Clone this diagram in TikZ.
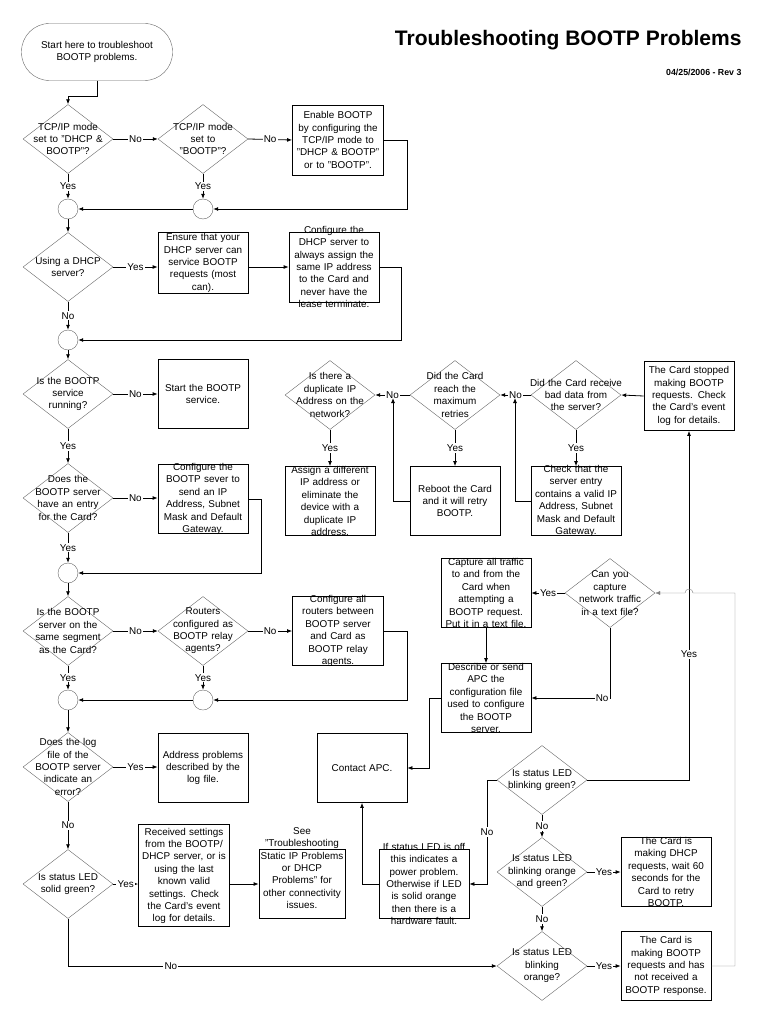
\documentclass[tikz,border=0pt]{standalone}
\usepackage{fontspec}
\setmainfont{Liberation Sans}
\usetikzlibrary{shapes.geometric,arrows.meta}
\begin{document}
\begin{tikzpicture}[x=1pt,y=-1pt,
  every node/.style={font=\fontsize{9.9}{12.4}\selectfont},
  dia/.style={draw=black!60,shape=diamond,minimum width=90,minimum height=69,inner sep=0},
  bx/.style={draw,thick,minimum width=90,minimum height=69,inner sep=0},
  txt/.style={align=center,inner sep=0,text width=110},
  dot/.style={draw=black!60,circle,minimum size=20,inner sep=0},
  ar/.style={-{Latex[length=5pt,width=4pt]},thick},
  lab/.style={fill=white,inner sep=1.2pt}]
\useasboundingbox (0,0) rectangle (768,1024);
\newcommand\dd[3]{\node[dia] (#1) at (#2) {};\node[txt] at (#1) {#3};}
\newcommand\bb[3]{\node[bx] (#1) at (#2) {};\node[txt] at (#1) {#3};}
% title
\node[anchor=east,font=\fontsize{21}{24}\bfseries] (title) at (745,40) {Troubleshooting BOOTP Problems};
\node[anchor=east,font=\fontsize{8.8}{10}\bfseries] (date) at (745,72) {04/25/2006 - Rev 3};
\node[draw=black!60,rounded corners=28,minimum width=151,minimum height=57,align=center] (start) at (97,52) {Start here to troubleshoot\\BOOTP problems.};
% left column
\dd{d1}{68,139}{TCP/IP mode\\set to "DHCP \&\\BOOTP"?}
\dd{d2}{203,139}{TCP/IP mode\\set to\\"BOOTP"?}
\node[bx,minimum width=91,minimum height=70] (enable) at (338,140) {};
\node[txt] at (enable) {Enable BOOTP\\by configuring the\\TCP/IP mode to\\"DHCP \& BOOTP"\\or to "BOOTP".};
\node[dot] (c1) at (68,209) {};
\node[dot] (c2) at (203,209) {};
\dd{d3}{68,267}{Using a DHCP\\server?}
\node[bx,minimum height=61] (ensure) at (203,263) {};
\node[txt] at (ensure) {Ensure that your\\DHCP server can\\service BOOTP\\requests (most\\can).};
\node[bx,minimum height=70] (cfgdhcp) at (334,267) {};
\node[txt] at (cfgdhcp) {Configure the\\DHCP server to\\always assign the\\same IP address\\to the Card and\\never have the\\lease terminate.};
\node[dot] (c3) at (68,340) {};
\dd{d4}{68,394}{Is the BOOTP\\service\\running?}
\bb{startsvc}{203,394}{Start the BOOTP\\service.}
\dd{d5}{68,498}{Does the\\BOOTP server\\have an entry\\for the Card?}
\bb{cfgboot}{203,499}{Configure the\\BOOTP sever to\\send an IP\\Address, Subnet\\Mask and Default\\Gateway.}
\node[dot] (c4) at (68,573) {};
\dd{d6}{68,631}{Is the BOOTP\\server on the\\same segment\\as the Card?}
\dd{d7}{203,631}{Routers\\configured as\\BOOTP relay\\agents?}
\node[bx,minimum width=91,minimum height=69] (routers) at (338,631) {};
\node[txt] at (routers) {Configure all\\routers between\\BOOTP server\\and Card as\\BOOTP relay\\agents.};
\node[dot] (c5) at (68,700) {};
\node[dot] (c6) at (203,700) {};
\dd{d8}{68,767}{Does the log\\file of the\\BOOTP server\\indicate an\\error?}
\bb{addr}{203,768}{Address problems\\described by the\\log file.}
\dd{d9}{68,884}{Is status LED\\solid green?}
\node[bx,minimum width=91,minimum height=102] (recv) at (184,875) {};
\node[txt] at (184,876) {Received settings\\from the BOOTP/\\DHCP server, or is\\using the last\\known valid\\settings. Check\\the Card's event\\log for details.};
\node[bx,minimum width=86,minimum height=69] (see) at (302,884) {};
\node[txt] at (302,868) {See\\"Troubleshooting\\Static IP Problems\\or DHCP\\Problems" for\\other connectivity\\issues.};
% middle/right
\dd{ddup}{330,395}{Is there a\\duplicate IP\\Address on the\\network?}
\dd{dmax}{455,395}{Did the Card\\reach the\\maximum\\retries}
\dd{dbad}{576,395}{Did the Card receive\\bad data from\\the server?}
\bb{stopped}{689,396}{The Card stopped\\making BOOTP\\requests. Check\\the Card's event\\log for details.}
\bb{assign}{330,501}{Assign a different\\IP address or\\eliminate the\\device with a\\duplicate IP\\address.}
\bb{reboot}{455,501}{Reboot the Card\\and it will retry\\BOOTP.}
\bb{check}{576,501}{Check that the\\server entry\\contains a valid IP\\Address, Subnet\\Mask and Default\\Gateway.}
\dd{dcap}{610,593}{Can you\\capture\\network traffic\\in a text file?}
\bb{capture}{486,593}{Capture all traffic\\to and from the\\Card when\\attempting a\\BOOTP request.\\Put it in a text file.}
\bb{describe}{486,698}{Describe or send\\APC the\\configuration file\\used to configure\\the BOOTP\\server.}
\bb{contact}{362,768}{Contact APC.}
\dd{d10}{542,780}{Is status LED\\blinking green?}
\dd{d11}{542,872}{Is status LED\\blinking orange\\and green?}
\dd{d12}{542,966}{Is status LED\\blinking\\orange?}
\bb{dhcpreq}{666,872}{The Card is\\making DHCP\\requests, wait 60\\seconds for the\\Card to retry\\BOOTP.}
\bb{bootresp}{666,966}{The Card is\\making BOOTP\\requests and has\\not received a\\BOOTP response.}
\bb{ledoff}{424,884}{If status LED is off\\this indicates a\\power problem.\\Otherwise if LED\\is solid orange\\then there is a\\hardware fault.}
% connectors
\draw[ar] (start.south) -- (97,96) -| (d1.north);
\draw[ar] (d1.east) -- node[lab]{No} (d2.west);
\draw[ar] (d2.east) -- node[lab]{No} (enable.west);
\draw[ar] (d1.south) -- node[lab]{Yes} (c1.north);
\draw[ar] (d2.south) -- node[lab]{Yes} (c2.north);
\draw[ar] (enable.east) -- (407,140) |- (c2.east);
\draw[ar] (c2.west) -- (c1.east);
\draw[ar] (c1.south) -- (d3.north);
\draw[ar] (d3.east) -- node[lab]{Yes} (ensure.west|-d3.east);
\draw[ar] (ensure.east|-d3.east) -- (cfgdhcp.west|-d3.east);
\draw[ar] (cfgdhcp.east) -- (401,267) |- (c3.east);
\draw[ar] (d3.south) -- node[lab]{No} (c3.north);
\draw[ar] (c3.south) -- (d4.north);
\draw[ar] (d4.east) -- node[lab]{No} (startsvc.west|-d4.east);
\draw[ar] (d4.south) -- node[lab]{Yes} (d5.north);
\draw[ar] (d5.east) -- node[lab]{No} (cfgboot.west|-d5.east);
\draw[ar] (d5.south) -- node[lab]{Yes} (c4.north);
\draw[ar] (cfgboot.east) -- (261,499) |- (c4.east);
\draw[ar] (c4.south) -- (d6.north);
\draw[ar] (d6.east) -- node[lab]{No} (d7.west);
\draw[ar] (d7.east) -- node[lab]{No} (routers.west);
\draw[ar] (d6.south) -- node[lab]{Yes} (c5.north);
\draw[ar] (d7.south) -- node[lab]{Yes} (c6.north);
\draw[ar] (routers.east) -- (407,631) |- (c6.east);
\draw[ar] (c6.west) -- (c5.east);
\draw[ar] (c5.south) -- (d8.north);
\draw[ar] (d8.east) -- node[lab]{Yes} (addr.west|-d8.east);
\draw[ar] (d8.south) -- node[lab]{No} (d9.north);
\draw[ar] (d9.east) -- node[lab]{Yes} (recv.west|-d9.east);
\draw[ar] (recv.east|-d9.east) -- (see.west);
\draw[ar] (d9.south) |- node[lab,pos=0.62]{No} (d12.west);
\draw[ar] (d12.east) -- node[lab]{Yes} (bootresp.west);
\draw[ar] (d11.east) -- node[lab]{Yes} (dhcpreq.west);
\draw[ar] (d10.south) -- node[lab]{No} (d11.north);
\draw[ar] (d11.south) -- node[lab]{No} (d12.north);
\draw[ar] (d10.west) -- (487,780) -- node[lab]{No} (487,884) -- (ledoff.east);
\draw[ar] (ledoff.west) -| (contact.south);
\draw[ar] (d10.east) -| node[lab,pos=0.68]{Yes} (stopped.south);
\draw[ar] (stopped.west) -- (dbad.east);
\draw[ar] (dbad.west) -- node[lab]{No} (dmax.east);
\draw[ar] (dbad.south) -- node[lab]{Yes} (check.north);
\coordinate (ck) at (515,398);
\coordinate (rb) at (393,398);
\draw[ar] (check.west) -| (ck);
\draw[ar] (dmax.west) -- node[lab]{No} (ddup.east);
\draw[ar] (dmax.south) -- node[lab]{Yes} (reboot.north);
\draw[ar] (reboot.west) -| (rb);
\draw[ar] (ddup.south) -- node[lab]{Yes} (assign.north);
\draw[ar] (dcap.west) -- node[lab]{Yes} (capture.east);
\draw[ar] (capture.south) -- (describe.north);
\draw[ar] (dcap.south) |- node[lab,pos=0.55]{No} (describe.east);
\draw[ar] (describe.west) -- (429,698) |- (contact.east);
\draw[-{Latex[length=5pt,width=4pt]},black!50] (bootresp.east) -- (735,966) -- (735,593) -- (693,593) arc (0:-180:4) -- (dcap.east);
\end{tikzpicture}
\end{document}
